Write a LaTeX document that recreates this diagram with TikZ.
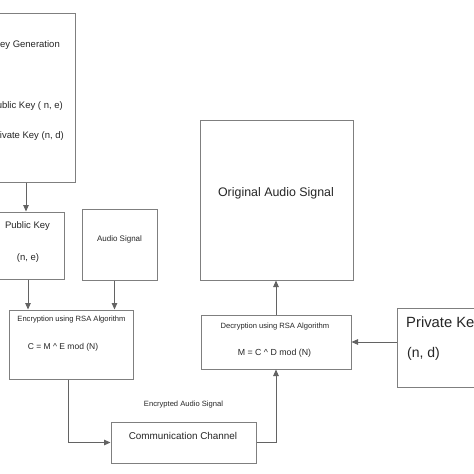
\documentclass[tikz,border=0pt]{standalone}
\usepackage{fontspec}
\setmainfont{Liberation Sans}
\usetikzlibrary{arrows.meta}
\definecolor{RSALine}{HTML}{7F7F7F}
\definecolor{RSAArrow}{HTML}{636363}
\definecolor{RSAText}{HTML}{262626}
\newcommand{\fsz}[1]{\fontsize{#1}{#1}\selectfont}

\tikzset{
  rsabox/.style={draw=RSALine,line width=1pt,inner sep=0pt},
  rsaarrow/.style={draw=RSAArrow,line width=1pt,-{Triangle[length=6.5pt,width=5.5pt]}},
  rsatext/.style={text=RSAText,inner sep=0pt},
}

\begin{document}
\begin{tikzpicture}[x=1pt,y=-1pt]
\clip (0,0) rectangle (474,474);
\fill[white] (0,0) rectangle (474,474);
% boxes
\node[rsabox,minimum width=100pt,minimum height=169pt] (keygen) at (25,97.5) {};
\node[rsabox,minimum width=66pt,minimum height=67pt] (pubkey) at (31,245.5) {};
\node[rsabox,minimum width=75pt,minimum height=71pt] (audio) at (119.5,244.5) {};
\node[rsabox,minimum width=124pt,minimum height=69pt] (enc) at (71,344.5) {};
\node[rsabox,minimum width=145pt,minimum height=41pt] (comm) at (183.5,442.5) {};
\node[rsabox,minimum width=150pt,minimum height=54pt] (dec) at (276,342) {};
\node[rsabox,minimum width=153pt,minimum height=160pt] (orig) at (276.5,200) {};
\node[rsabox,minimum width=103pt,minimum height=79pt] (privkey) at (448.5,347.5) {};
% texts
\node[rsatext,anchor=east] (kgtitle) at (60,45) {\fsz{9.5}Key Generation};
\node[rsatext,anchor=east] (kgpub) at (63,106) {\fsz{9.5}Public Key ( n, e)};
\node[rsatext,anchor=east] (kgpriv) at (64,136) {\fsz{9.5}Private Key (n, d)};
\node[rsatext] (pktitle) at (27.5,226) {\fsz{9.5}Public Key};
\node[rsatext] (pkvalue) at (28,258) {\fsz{9.5}(n, e)};
\node[rsatext] (audiotext) at (119.5,239) {\fsz{8}Audio Signal};
\node[rsatext] (enctitle) at (71.5,320) {\fsz{7.6}Encryption using RSA Algorithm};
\node[rsatext] (encformula) at (63,347) {\fsz{8.5}C = M \^{} E mod (N)};
\node[rsatext] (commtext) at (183,436) {\fsz{9.9}Communication Channel};
\node[rsatext] (channellabel) at (183.5,405) {\fsz{7.6}Encrypted Audio Signal};
\node[rsatext] (dectitle) at (275,327) {\fsz{7.6}Decryption using RSA Algorithm};
\node[rsatext] (decformula) at (274.5,353) {\fsz{8.8}M = C \^{} D mod (N)};
\node[rsatext] (origtext) at (276,193) {\fsz{12.4}Original Audio Signal};
\node[rsatext,anchor=west] (pvtitle) at (406,324) {\fsz{14.8}Private Key};
\node[rsatext] (pvvalue) at (423.5,354) {\fsz{14}(n, d)};
% connectors
\draw[rsaarrow] ([xshift=1pt]keygen.south) -- ([xshift=1pt]keygen.south |- pubkey.north);
\draw[rsaarrow] ([xshift=-3pt]pubkey.south) -- ([xshift=-3pt]pubkey.south |- enc.north);
\draw[rsaarrow] ([xshift=-5pt]audio.south) -- ([xshift=-5pt]audio.south |- enc.north);
\draw[rsaarrow] ([xshift=-3pt]enc.south) |- (comm.west);
\draw[rsaarrow] (comm.east) -| (dec.south);
\draw[rsaarrow] (dec.north) -- (dec.north |- orig.south);
\draw[rsaarrow] (privkey.west |- dec.east) -- (dec.east);
\end{tikzpicture}
\end{document}
